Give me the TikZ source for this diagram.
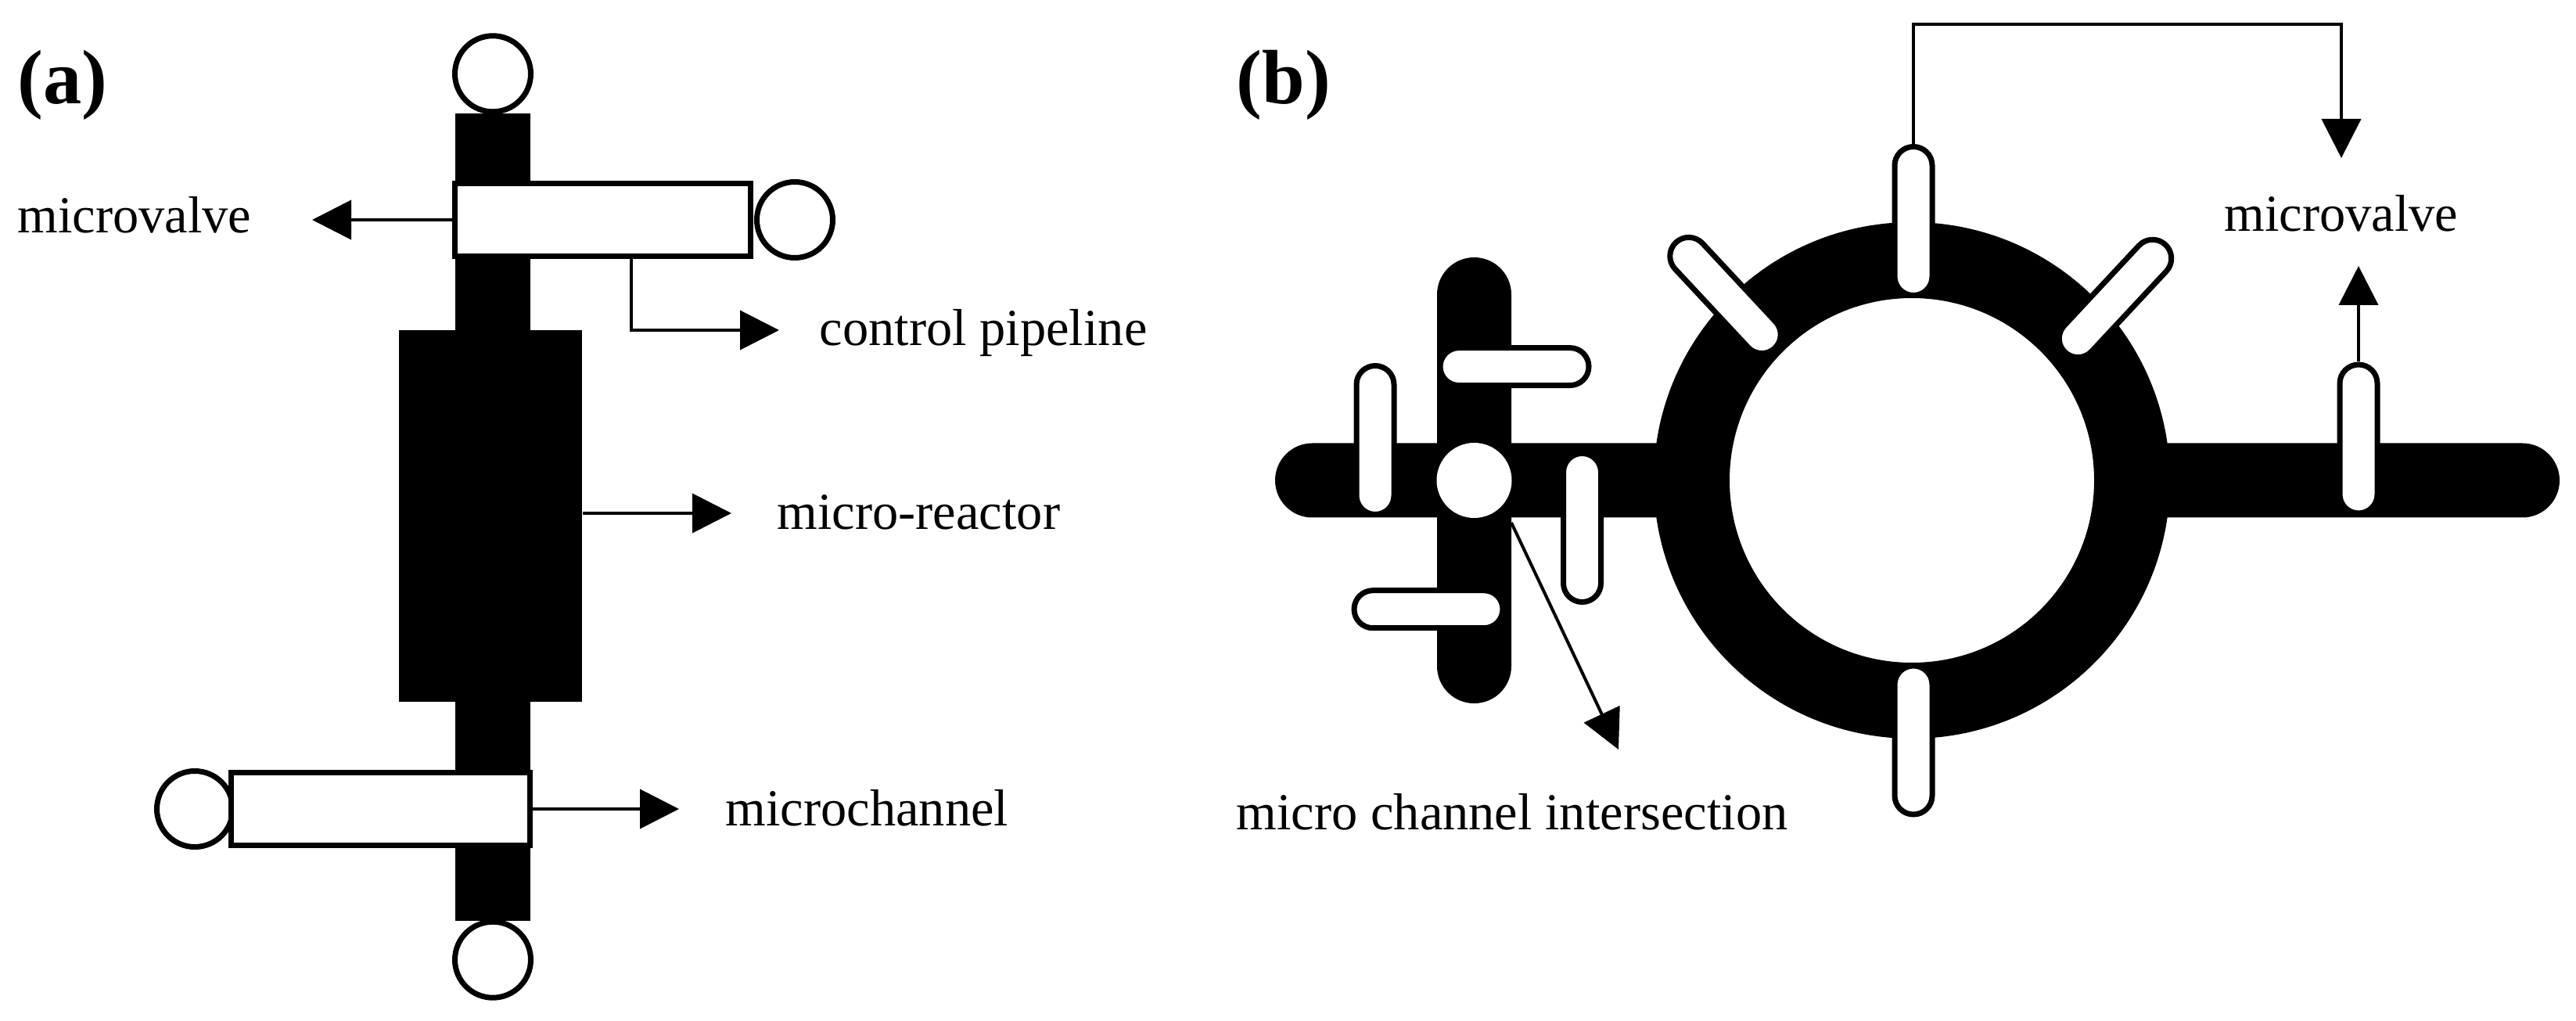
\documentclass[tikz,border=0pt]{standalone}
\usepackage{fontspec}
\setmainfont{Liberation Serif}
\usetikzlibrary{positioning}
\usetikzlibrary{arrows.meta}
\usetikzlibrary{shapes.misc}
\tikzstyle{channel} = [rectangle, fill=black, inner sep=0pt]
\tikzstyle{roundchannel} = [rounded rectangle, fill=black, inner sep=0pt, minimum height=0.95cm]
\tikzstyle{valve} = [rectangle, draw=black, line width=0.07cm, fill=white, inner sep=0pt, minimum height=0.93cm]
\tikzstyle{pill} = [rounded rectangle, draw=black, line width=0.07cm, fill=white, inner sep=0pt, minimum height=0.48cm, minimum width=1.90cm]
\tikzstyle{port} = [circle, draw=black, line width=0.07cm, fill=white, inner sep=0pt, minimum size=0.97cm]
\tikzstyle{label} = [inner sep=0pt, font=\fontsize{18.9}{22}\selectfont, text height=0.45cm, text depth=0.12cm]
\tikzstyle{panel} = [inner sep=0pt, font=\fontsize{28}{30}\selectfont\bfseries]
\tikzstyle{arrow} = [line width=0.04cm, -{Triangle[length=0.5cm, width=0.5cm]}]

\begin{document}
\begin{tikzpicture}[node distance=0cm]
        \useasboundingbox (0,0) rectangle (32.93,13.04);
        % panel a
        \node (panelA) [panel, anchor=west] at (0.22,11.95) {(a)};
        \node (channelA) [channel, minimum width=0.96cm, minimum height=10.32cm] at (6.30,6.43) {};
        \node (reactor) [channel, minimum width=2.34cm, minimum height=4.75cm] at (6.27,6.445) {};
        \node (portRight) [port] at (10.16,10.23) {};
        \node (portLeft) [port] at (2.49,2.70) {};
        \node (valveTop) [valve, minimum width=3.78cm] at (7.70,10.23) {};
        \node (valveBottom) [valve, minimum width=3.82cm] at (4.86,2.70) {};
        \node (portTop) [port, above=-0.02cm of channelA] {};
        \node (portBottom) [port, below=-0.03cm of channelA] {};
        \coordinate [left of=valveTop, xshift=-3.71cm] (tipValve);
        \coordinate (tipPipeline) at (9.96,8.82);
        \coordinate (tipReactor) at (9.35,6.48);
        \coordinate [right of=valveBottom, xshift=3.82cm] (tipChannel);
        \node (labelValve) [label, left=0.77cm of tipValve] {microvalve};
        \node (labelPipeline) [label, right=0.51cm of tipPipeline, yshift=-0.03cm] {control pipeline};
        \node (labelReactor) [label, right=0.58cm of tipReactor, yshift=-0.04cm] {micro-reactor};
        \node (labelChannel) [label, right=0.59cm of tipChannel, yshift=-0.05cm] {microchannel};

        \draw [arrow] (valveTop.west) -- (tipValve);
        \draw [arrow] (valveTop.south -| 8.07,0) -- (8.07,8.82) -- (tipPipeline);
        \draw [arrow] (reactor.east |- tipReactor) -- (tipReactor);
        \draw [arrow] (valveBottom.east) -- (tipChannel);

        % panel b
        \node (panelB) [panel, anchor=west] at (15.80,11.95) {(b)};
        \node (channelH) [roundchannel, minimum width=16.42cm] at (24.51,6.90) {};
        \node (channelV) [roundchannel, minimum width=5.70cm, rotate=90] at (18.845,6.90) {};
        \node (ring) [circle, draw=black, fill=white, line width=0.97cm, minimum size=5.63cm, inner sep=0pt] at (24.44,6.90) {};
        \node (junction) [circle, fill=white, inner sep=0pt, minimum size=0.96cm] at (18.845,6.90) {};
        \node (pillTop) [pill, rotate=90] at (24.46,10.215) {};
        \node (pillBottom) [pill, rotate=90] at (24.46,3.58) {};
        \node (pillNW) [pill, minimum width=1.85cm, rotate=-47] at (22.055,9.265) {};
        \node (pillNE) [pill, minimum width=1.88cm, rotate=47] at (27.04,9.225) {};
        \node (pillA) [pill, rotate=90] at (17.58,7.415) {};
        \node (pillB) [pill, rotate=90] at (20.225,6.295) {};
        \node (pillC) [pill] at (19.36,8.354) {};
        \node (pillD) [pill] at (18.26,5.253) {};
        \node (pillE) [pill, rotate=90] at (30.15,7.43) {};
        \coordinate (bendLeft) at (24.46,12.73);
        \coordinate (tipTop) at (29.93,11.02);
        \coordinate (tipUp) at (30.15,9.64);
        \coordinate (crossStart) at (19.32,6.36);
        \coordinate (tipCross) at (20.69,3.46);
        \node (labelValveB) [label] at (29.93,10.25) {microvalve};
        \node (labelCross) [label] at (19.33,2.60) {micro channel intersection};

        \draw [arrow] (pillTop.east) -- (bendLeft) -| (tipTop);
        \draw [arrow] (pillE.east) -- (tipUp);
        \draw [arrow] (crossStart) -- (tipCross);
\end{tikzpicture}
\end{document}
